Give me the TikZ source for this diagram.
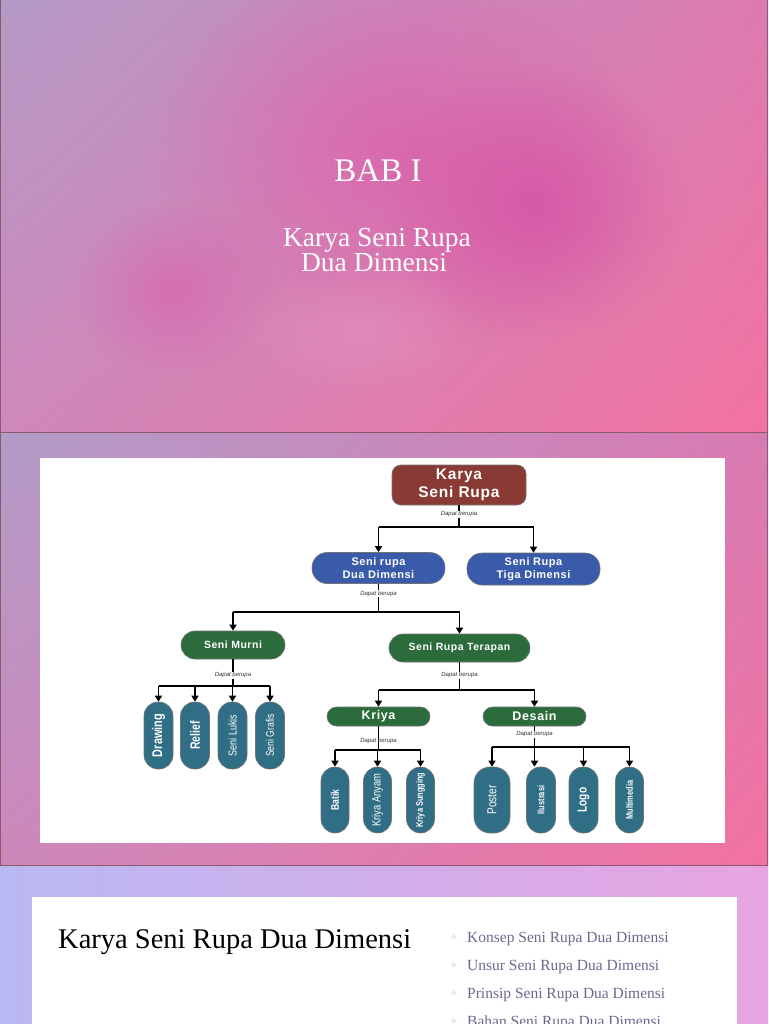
\documentclass[tikz,border=0pt]{standalone}
\usepackage{fontspec}
\setmainfont{Liberation Serif}
\newfontfamily\dsans{Liberation Sans}[LetterSpace=5]
\newfontfamily\nsans{Liberation Sans}[FakeStretch=0.78]
\newfontfamily\isans{Liberation Sans}
\newfontfamily\symf{DejaVu Sans}
\usetikzlibrary{arrows.meta,fadings,calc,shadings}
\tikzfading[name=blobfade, inner color=transparent!0, outer color=transparent!100]
\definecolor{karyared}{HTML}{8A3A34}
\definecolor{duablue}{HTML}{3A5BA9}
\definecolor{murgreen}{HTML}{2C6B3C}
\definecolor{leafteal}{HTML}{2F6E84}
\definecolor{slideline}{HTML}{8A5A6C}
\definecolor{bullettext}{HTML}{6B6890}
\definecolor{bulletmark}{HTML}{C4BCDA}
\definecolor{sa}{RGB}{180,154,198}
\definecolor{sb}{RGB}{220,122,176}
\definecolor{sc}{RGB}{206,136,186}
\definecolor{sd}{RGB}{242,114,160}
\definecolor{ta}{RGB}{178,156,200}
\definecolor{tb}{RGB}{216,122,178}
\definecolor{tc}{RGB}{204,136,186}
\definecolor{td}{RGB}{242,114,160}
\definecolor{ua}{RGB}{184,184,242}
\definecolor{ub}{RGB}{232,164,226}
\definecolor{bloba}{RGB}{220,100,172}
\definecolor{blobb}{RGB}{214,84,166}
\definecolor{blobc}{RGB}{216,100,176}
\definecolor{blobd}{RGB}{232,150,196}
\tikzset{
  boxbase/.style={draw=black!55, line width=0.6pt, text=white, inner sep=0pt, align=center},
  karyabox/.style={boxbase, fill=karyared, minimum width=134pt, minimum height=40pt, rounded corners=9pt, font=\dsans\bfseries\fontsize{15.5}{18}\selectfont},
  bluebox/.style={boxbase, fill=duablue, minimum width=133pt, minimum height=31pt, rounded corners=15pt, font=\dsans\bfseries\fontsize{11}{13}\selectfont},
  greenbox/.style={boxbase, fill=murgreen, minimum height=28pt, rounded corners=14pt, font=\dsans\bfseries\fontsize{10.5}{12}\selectfont},
  smallgreen/.style={boxbase, fill=murgreen, minimum width=103pt, minimum height=19pt, rounded corners=9.5pt, font=\dsans\bfseries\fontsize{12.5}{14}\selectfont},
  leafbox/.style={boxbase, fill=leafteal, minimum width=29pt, minimum height=67pt, rounded corners=14pt},
  linkline/.style={line width=1.8pt, black},
  linkarrow/.style={line width=1.8pt, black, -{Triangle[length=6pt,width=7pt]}},
  dapat/.style={font=\isans\itshape\fontsize{6}{7}\selectfont, text=black!80, fill=white, inner sep=0.6pt},
  titletext/.style={text=white, inner sep=0pt, anchor=base},
  bulletline/.style={text=bullettext, inner sep=0pt, anchor=base west, font=\fontsize{15.5}{18}\selectfont},
  bulletmk/.style={text=bulletmark, inner sep=0pt, font=\symf\fontsize{8.5}{9}\selectfont}
}
\begin{document}
\begin{tikzpicture}[x=1pt,y=-1pt]
\useasboundingbox (0,0) rectangle (768,1024);
% ---------- slide 1 ----------
\begin{scope}
\clip (0,0) rectangle (768,432);
\shade[upper left=sa, upper right=sb, lower left=sc, lower right=sd] (0,0) rectangle (768,432);
\fill[bloba, path fading=blobfade, opacity=0.85] (400,150) ellipse (250pt and 200pt);
\fill[blobb, path fading=blobfade, opacity=0.85] (535,205) ellipse (150pt and 140pt);
\fill[blobc, path fading=blobfade, opacity=0.7] (175,290) ellipse (100pt and 90pt);
\fill[blobd, path fading=blobfade, opacity=0.5] (360,330) ellipse (120pt and 70pt);
\end{scope}
\draw[slideline, line width=0.8pt] (0.4,0) -- (0.4,432) -- (767.6,432) -- (767.6,0);
\node[titletext, font=\fontsize{33}{36}\selectfont] (bab) at (378,182) {BAB I};
\node[titletext, font=\fontsize{27.5}{30}\selectfont] (sub1) at (377,246) {Karya Seni Rupa};
\node[titletext, font=\fontsize{27.5}{30}\selectfont] (sub2) at (374,271) {Dua Dimensi};
% ---------- slide 2 ----------
\begin{scope}
\clip (0,433) rectangle (768,865);
\shade[upper left=ta, upper right=tb, lower left=tc, lower right=td] (0,433) rectangle (768,865);
\end{scope}
\draw[slideline, line width=0.8pt] (0.4,433) -- (0.4,865) -- (767.6,865) -- (767.6,433);
\fill[white] (40,458) rectangle (725,843);
% nodes
\node[karyabox] (karya) at (459,485) {Karya\\Seni Rupa};
\node[bluebox] (dua) at (378.5,568) {Seni rupa\\Dua Dimensi};
\node[bluebox, minimum height=32pt] (tiga) at (533.5,569) {Seni Rupa\\Tiga Dimensi};
\node[greenbox, minimum width=104pt] (murni) at (233,645) {Seni Murni};
\node[greenbox, minimum width=141pt] (terapan) at (459.5,648) {Seni Rupa Terapan};
\node[smallgreen] (kriya) at (378.5,716.5) {Kriya};
\node[smallgreen] (desain) at (534.5,716.5) {Desain};
% Seni Murni leaves
\node[leafbox] (drawing) at (158.5,735.5) {\rotatebox{90}{\nsans\bfseries\fontsize{14}{14}\selectfont Drawing}};
\node[leafbox] (relief) at (195,735.5) {\rotatebox{90}{\nsans\bfseries\fontsize{13.5}{14}\selectfont Relief}};
\node[leafbox] (lukis) at (232.5,735.5) {\rotatebox{90}{\nsans\fontsize{11.5}{12}\selectfont Seni Lukis}};
\node[leafbox] (grafis) at (270,735.5) {\rotatebox{90}{\nsans\fontsize{11}{12}\selectfont Seni Grafis}};
% Kriya leaves
\node[leafbox, minimum width=28pt, minimum height=66pt] (batik) at (335,800) {\rotatebox{90}{\nsans\bfseries\fontsize{11}{12}\selectfont Batik}};
\node[leafbox, minimum width=28pt, minimum height=66pt] (anyam) at (377.5,800) {\rotatebox{90}{\nsans\fontsize{12}{12}\selectfont Kriya Anyam}};
\node[leafbox, minimum width=28pt, minimum height=66pt] (sungging) at (420.5,800) {\rotatebox{90}{\nsans\bfseries\fontsize{9.5}{12}\selectfont Kriya Sungging}};
% Desain leaves
\node[leafbox, minimum width=36pt, minimum height=66pt, rounded corners=16pt] (poster) at (492,800) {\rotatebox{90}{\nsans\fontsize{13}{13}\selectfont Poster}};
\node[leafbox, minimum width=29pt, minimum height=66pt] (ilustrasi) at (541,800) {\rotatebox{90}{\nsans\bfseries\fontsize{9.5}{12}\selectfont Ilustrasi}};
\node[leafbox, minimum width=29pt, minimum height=66pt] (logo) at (583.5,800) {\rotatebox{90}{\nsans\bfseries\fontsize{13}{13}\selectfont Logo}};
\node[leafbox, minimum width=28pt, minimum height=66pt] (multi) at (629.5,800) {\rotatebox{90}{\nsans\bfseries\fontsize{9.5}{12}\selectfont Multimedia}};
% connectors: karya
\coordinate (jk) at ($(karya.south)+(0,22)$);
\draw[linkline] (karya.south) -- (jk);
\draw[linkline] (dua.north |- jk) -- (tiga.north |- jk);
\draw[linkarrow] (dua.north |- jk) -- (dua.north);
\draw[linkarrow] (tiga.north |- jk) -- (tiga.north);
\node[dapat] (dk) at ($(karya.south)+(0,9)$) {Dapat berupa};
% dua
\coordinate (jd) at ($(dua.south)+(0,28)$);
\draw[linkline] (dua.south) -- (jd);
\draw[linkline] (murni.north |- jd) -- (terapan.north |- jd);
\draw[linkarrow] (murni.north |- jd) -- (murni.north);
\draw[linkarrow] (terapan.north |- jd) -- (terapan.north);
\node[dapat] (dd) at ($(dua.south)+(0,10)$) {Dapat berupa};
% murni
\coordinate (jm) at ($(murni.south)+(0,27)$);
\draw[linkline] (murni.south) -- (jm);
\draw[linkline] (drawing.north |- jm) -- (grafis.north |- jm);
\foreach \n in {drawing,relief,lukis,grafis} \draw[linkarrow] (\n.north |- jm) -- (\n.north);
\node[dapat] (dm) at ($(murni.south)+(0,16)$) {Dapat berupa};
% terapan
\coordinate (jt) at ($(terapan.south)+(0,28)$);
\draw[linkline] (terapan.south) -- (jt);
\draw[linkline] (kriya.north |- jt) -- (desain.north |- jt);
\draw[linkarrow] (kriya.north |- jt) -- (kriya.north);
\draw[linkarrow] (desain.north |- jt) -- (desain.north);
\node[dapat] (dt) at ($(terapan.south)+(0,13)$) {Dapat berupa};
% kriya
\coordinate (jr) at ($(kriya.south)+(0,24)$);
\draw[linkline] (kriya.south) -- (jr);
\draw[linkline] (batik.north |- jr) -- (sungging.north |- jr);
\foreach \n in {batik,anyam,sungging} \draw[linkarrow] (\n.north |- jr) -- (\n.north);
\node[dapat, fill=none] (dr) at ($(kriya.south)+(0,15)$) {Dapat berupa};
% desain
\coordinate (js) at ($(desain.south)+(0,21)$);
\draw[linkline] (desain.south) -- (js);
\draw[linkline] (poster.north |- js) -- (multi.north |- js);
\draw[linkarrow] (poster.north |- js) -- (poster.north);
\draw[linkarrow] (js) -- (js |- ilustrasi.north);
\draw[linkarrow] (logo.north |- js) -- (logo.north);
\draw[linkarrow] (multi.north |- js) -- (multi.north);
\node[dapat] (ds) at ($(desain.south)+(0,8)$) {Dapat berupa};
% ---------- slide 3 ----------
\begin{scope}
\clip (0,866) rectangle (768,1024);
\shade[left color=ua, right color=ub] (0,866) rectangle (768,1024);
\fill[white] (32,897) rectangle (737,1030);
\node[inner sep=0pt, anchor=base west, font=\fontsize{28.5}{30}\selectfont] (t3) at (58,948) {Karya Seni Rupa Dua Dimensi};
\node[bulletline] (b1) at (467,942) {Konsep Seni Rupa Dua Dimensi};
\node[bulletline] (b2) at (467,970) {Unsur Seni Rupa Dua Dimensi};
\node[bulletline] (b3) at (467,998) {Prinsip Seni Rupa Dua Dimensi};
\node[bulletline] (b4) at (467,1026) {Bahan Seni Rupa Dua Dimensi};
\foreach \yy/\nm in {937/m1,965/m2,993/m3,1021/m4} \node[bulletmk] (\nm) at (454,\yy) {✧};
\end{scope}
\end{tikzpicture}
\end{document}
